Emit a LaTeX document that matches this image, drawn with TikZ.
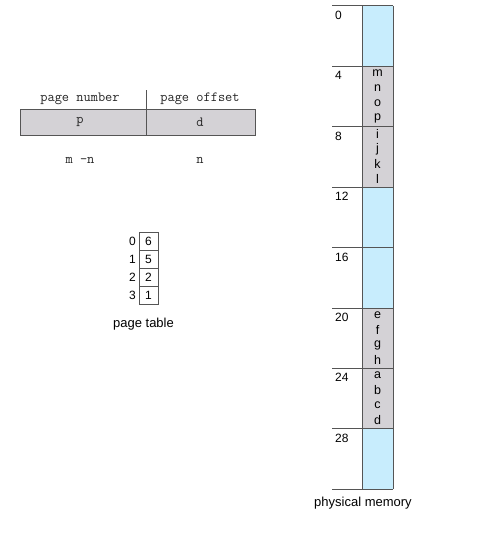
\documentclass[tikz,border=0pt]{standalone}
\usepackage{fontspec}
\setmainfont{Liberation Sans}
\definecolor{memblue}{HTML}{C8EDFD}
\definecolor{memgray}{HTML}{D4D2D6}
\definecolor{linegray}{HTML}{555555}
\begin{document}
\begin{tikzpicture}[x=1pt,y=-1pt,
  line/.style={draw=linegray,line width=1pt},
  mono/.style={font=\ttfamily\fontsize{14}{16}\selectfont,text=black!85,inner sep=0pt},
  sans/.style={font=\fontsize{13}{15}\selectfont,inner sep=0pt},
  cell/.style={draw=linegray,line width=0.8pt,minimum width=19pt,minimum height=18pt,inner sep=0pt,font=\fontsize{12}{14}\selectfont},
  addr/.style={font=\fontsize{12}{14}\selectfont,inner sep=0pt},
  letter/.style={font=\fontsize{12.5}{14}\selectfont,inner sep=0pt}]
\useasboundingbox (0,0) rectangle (494,543);

% logical address
\path[fill=memgray,line] (20,109) rectangle (255,135);
\draw[line] (146,90) -- (146,135);
\node[mono] (pn) at (80,99) {page number};
\node[mono] (po) at (200,99) {page offset};
\node[mono] (p) at (80,122) {p};
\node[mono] (d) at (200,122) {d};
\node[mono] (mn) at (80,160) {m -n};
\node[mono] (n) at (200,160) {n};

% page table
\foreach \i/\v [count=\k from 0] in {0/6,1/5,2/2,3/1}{
  \node[cell] (pt\i) at (148.5,241+18*\k) {\v};
  \node[addr,anchor=east] (ix\i) at (136,241+18*\k) {\i};
}
\node[sans] (ptl) at (143.5,324) {page table};

% physical memory
\def\top{6}\def\h{60.4}
\foreach \k/\c in {0/memblue,1/memgray,2/memgray,3/memblue,4/memblue,5/memgray,6/memgray,7/memblue}{
  \fill[\c] (362,\top+\h*\k) rectangle (393,\top+\h*\k+\h);
}
\draw[line] (362,\top) -- (362,\top+8*\h);
\draw[line] (393,\top) -- (393,\top+8*\h);
\foreach \k in {0,...,8}{
  \draw[line] (332,\top+\h*\k) -- (393,\top+\h*\k);
}
\foreach \k/\a in {0/0,1/4,2/8,3/12,4/16,5/20,6/24,7/28}{
  \node[addr,anchor=north west] (ad\a) at (335,\top+\h*\k+5) {\a};
}
\foreach \k/\s in {1/{m,n,o,p},2/{i,j,k,l},5/{e,f,g,h},6/{a,b,c,d}}{
  \foreach \l [count=\j from 0] in \s {
    \node[letter] (l\l) at (377.5,\top+\h*\k+7+15*\j) {\l};
  }
}
\node[sans] (pm) at (363,503) {physical memory};
\end{tikzpicture}
\end{document}
